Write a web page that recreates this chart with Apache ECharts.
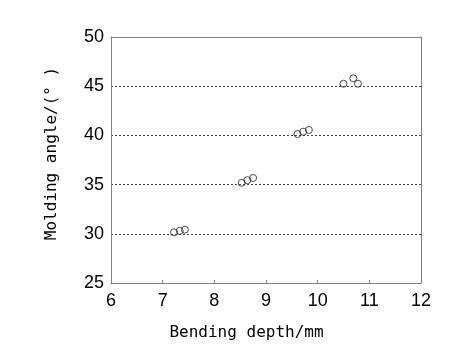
<!DOCTYPE html>
<html>
<head>
<meta charset="utf-8">
<script src="https://cdn.jsdelivr.net/npm/echarts@6/dist/echarts.min.js"></script>
<style>html,body{margin:0;padding:0;background:#fff}#c{width:474px;height:361px}</style>
</head>
<body>
<div id="c"></div>
<script>
var depthValues = [7.22, 7.33, 7.43, 8.53, 8.64, 8.75, 9.61, 9.72, 9.83, 10.50, 10.69, 10.78];
var angleValues = [30.15, 30.3, 30.42, 35.18, 35.45, 35.67, 40.14, 40.37, 40.55, 45.25, 45.8, 45.25];
var xTicks = [6, 7, 8, 9, 10, 11, 12];
var yTicks = [25, 30, 35, 40, 45, 50];
var xTitle = 'Bending depth/mm';
var yTitle = 'Molding angle/(° )';

var points = depthValues.map(function (d, i) { return [d, angleValues[i]]; });
var xMin = xTicks[0], xMax = xTicks[xTicks.length - 1];
var yMin = yTicks[0], yMax = yTicks[yTicks.length - 1];
var frame = {color: '#808080', width: 1};
var chart = echarts.init(document.getElementById('c'), null, {renderer: 'canvas'});
chart.setOption({
  animation: false,
  backgroundColor: '#fff',
  grid: {left: 111, right: 53, top: 37, bottom: 78},
  xAxis: [{
    type: 'value', min: xMin, max: xMax, interval: 1,
    name: xTitle, nameLocation: 'middle', nameGap: 42,
    nameTextStyle: {fontFamily: 'DejaVu Sans Mono', fontSize: 16, color: '#000', padding: [0, 39, 0, 0]},
    axisLine: {show: true, lineStyle: frame},
    axisTick: {show: true, inside: true, length: 3, lineStyle: frame},
    axisLabel: {fontFamily: 'Liberation Sans', fontSize: 18, color: '#000', margin: 9},
    splitLine: {show: false}
  }, {
    type: 'value', position: 'top', min: xMin, max: xMax, interval: 1,
    axisLine: {show: true, lineStyle: frame},
    axisTick: {show: false}, axisLabel: {show: false}, splitLine: {show: false}
  }],
  yAxis: [{
    type: 'value', min: yMin, max: yMax, interval: 5,
    name: yTitle, nameLocation: 'middle', nameGap: 51,
    nameTextStyle: {fontFamily: 'DejaVu Sans Mono', fontSize: 16, color: '#000', padding: [0, 0, 0, 13]},
    axisLine: {show: true, lineStyle: frame},
    axisTick: {show: false},
    axisLabel: {fontFamily: 'Liberation Sans', fontSize: 18, color: '#000', margin: 7},
    splitLine: {show: true, lineStyle: {color: '#444', type: [2, 2], width: 1}}
  }, {
    type: 'value', position: 'right', min: yMin, max: yMax, interval: 5,
    axisLine: {show: true, lineStyle: frame},
    axisTick: {show: false}, axisLabel: {show: false}, splitLine: {show: false}
  }],
  series: [{
    type: 'scatter',
    data: points,
    symbol: 'circle',
    symbolSize: 7,
    itemStyle: {color: 'rgba(255,255,255,0)', borderColor: '#222', borderWidth: 1}
  }]
});
</script>
</body>
</html>
